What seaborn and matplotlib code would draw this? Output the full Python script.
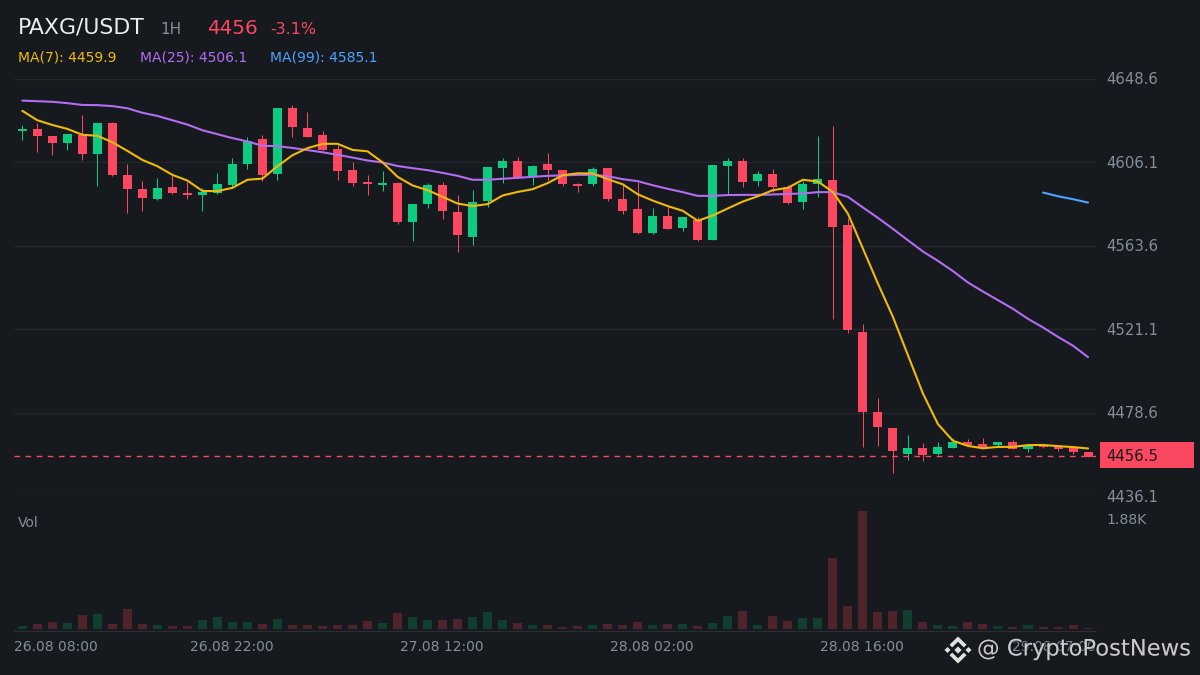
import numpy as np
import pandas as pd
import seaborn as sns
import matplotlib.pyplot as plt
import matplotlib.patheffects as pe
from matplotlib.patches import Polygon
from matplotlib.transforms import blended_transform_factory

opens = [4622.0,4623.0,4619.5,4615.9,4620.0,4610.3,4626.1,4599.6,4592.5,4587.4,4593.5,4590.5,4589.4,4590.5,4594.5,4605.2,4618.0,4600.1,4633.7,4623.6,4620.0,4612.9,4602.2,4596.1,4594.5,4595.6,
         4575.7,4584.9,4594.5,4580.8,4568.1,4586.4,4603.2,4606.7,4599.1,4605.2,4602.2,4595.0,4595.0,4603.2,4587.4,4582.3,4570.1,4578.8,4572.6,4576.7,4566.5,4604.2,4606.7,4596.6,4600.2,4593.5,
         4585.9,4595.0,4597.1,4574.1,4519.7,4478.9,4470.8,4457.6,4460.6,4457.6,4460.6,4463.7,4462.7,4462.1,4463.7,4460.1,4462.1,4461.6,4461.1,4458.6]
closes = [4623.0,4619.5,4615.9,4620.5,4610.3,4626.1,4599.6,4592.5,4587.9,4593.0,4590.5,4589.4,4591.0,4595.0,4605.2,4616.9,4599.6,4633.7,4624.1,4619.0,4612.4,4601.7,4595.6,4595.0,4595.6,4575.7,
          4584.9,4594.5,4581.3,4569.1,4585.9,4603.7,4606.7,4598.1,4604.2,4602.2,4595.0,4594.0,4602.7,4587.4,4581.3,4570.1,4578.8,4572.1,4578.2,4566.5,4604.7,4606.7,4596.1,4600.2,4593.5,4585.3,
          4595.0,4597.6,4573.1,4520.7,4478.9,4471.3,4459.1,4460.6,4457.1,4461.1,4463.7,4462.1,4461.1,4463.7,4460.1,4461.6,4461.1,4460.1,4458.6,4456.0]
highs = [4625.1,4626.1,4619.5,4620.5,4630.2,4626.1,4626.6,4605.2,4596.6,4598.1,4599.6,4596.1,4593.0,4600.6,4608.3,4619.0,4620.0,4633.7,4635.3,4631.7,4622.0,4614.9,4606.2,4599.6,4601.7,4596.1,
         4584.9,4595.5,4596.0,4589.4,4592.0,4603.7,4608.3,4608.8,4604.7,4610.8,4602.2,4595.5,4603.7,4603.2,4594.5,4596.0,4582.8,4583.8,4578.2,4578.2,4604.7,4608.3,4608.3,4601.7,4602.7,4594.5,
         4596.5,4619.5,4624.5,4577.7,4523.7,4486.1,4470.8,4467.2,4463.2,4463.7,4465.7,4465.2,4465.7,4463.7,4464.7,4461.6,4462.1,4461.6,4461.1,4458.6]
lows = [4617.4,4611.3,4609.8,4612.4,4607.3,4594.0,4599.1,4580.3,4581.3,4586.9,4590.0,4587.4,4581.3,4590.0,4593.5,4602.7,4596.6,4597.1,4619.0,4619.0,4612.4,4597.1,4594.0,4589.4,4591.5,4574.7,
        4566.0,4582.8,4577.2,4560.4,4564.0,4583.3,4595.5,4598.1,4594.5,4597.1,4594.0,4591.0,4594.0,4586.4,4579.8,4569.6,4569.6,4572.1,4571.1,4566.0,4566.5,4589.4,4593.5,4594.0,4591.0,4584.9,
        4582.3,4588.4,4526.3,4519.2,4461.1,4461.6,4447.9,4454.5,4454.0,4457.1,4460.6,4461.6,4460.6,4461.6,4460.1,4458.6,4460.6,4459.1,4457.6,4456.0]
volumes = [53,84,116,100,228,244,84,323,84,68,53,53,148,196,116,116,84,164,68,68,53,68,68,132,100,260,
           196,148,148,164,196,276,148,100,68,68,37,53,68,84,68,116,68,84,84,53,100,212,292,68,212,132,
           175,175,1131,366,1880,271,287,303,112,64,48,112,80,48,32,64,32,32,64,16]
ma7 = [4632.4,4627.6,4625.2,4623.2,4620.2,4619.7,4616.4,4612.0,4607.4,4604.2,4599.8,4596.9,4591.6,4591.5,4593.2,4597.3,4597.9,4604.2,4609.8,4613.4,4615.6,4615.6,4612.5,4611.8,4606.2,4598.8,
       4594.4,4592.0,4588.6,4585.2,4583.9,4584.9,4589.3,4591.1,4592.5,4595.6,4599.6,4600.6,4600.5,4597.6,4595.0,4589.9,4586.7,4583.9,4581.5,4576.4,4579.1,4582.7,4586.2,4588.9,4592.0,4593.2,
       4597.3,4596.4,4591.1,4580.1,4562.3,4544.5,4527.5,4508.0,4488.5,4472.9,4464.4,4461.8,4460.6,4461.3,4461.3,4462.2,4462.3,4461.7,4461.2,4460.5]
ma25 = [4637.6,4637.3,4637.0,4636.3,4635.4,4635.3,4634.8,4633.7,4631.4,4629.8,4627.6,4625.4,4622.5,4620.5,4618.5,4616.8,4614.6,4614.4,4613.5,4612.4,4611.3,4610.0,4608.6,4607.1,4606.1,4604.3,
        4603.2,4602.2,4600.8,4599.3,4597.3,4597.3,4597.8,4598.3,4598.8,4599.3,4599.5,4599.8,4599.8,4599.1,4597.6,4596.6,4594.5,4592.7,4591.0,4589.1,4589.1,4589.5,4589.6,4589.6,4589.8,4590.1,
        4590.3,4591.0,4591.0,4588.6,4583.2,4577.9,4572.3,4566.5,4560.8,4556.0,4550.8,4545.0,4540.4,4536.0,4531.6,4526.5,4522.1,4517.3,4512.8,4507.0]
ma99 = [4590.8,4588.9,4587.4,4585.7]
ma99_idx = [68,69,70,71]

price_ticks = [4648.6,4606.1,4563.6,4521.1,4478.6,4436.1]
date_labels = ["26.08 08:00","26.08 22:00","27.08 12:00","28.08 02:00","28.08 16:00","29.08 07:00"]
date_idx = [0,14,28,42,56,71]
last_price = 4456.5

BG = "#161a1e"
GRID = "#24282d"
UP = "#0ecb81"
DOWN = "#fb4760"
MUTED = "#848e9c"

sns.set_theme(style="dark", rc={"figure.facecolor": BG, "axes.facecolor": BG})
plt.rcParams["font.family"] = ["DejaVu Sans"]

W, H = 1200, 675
fig = plt.figure(figsize=(12, 6.75), dpi=100)
left, right = 14 / W, 1096 / W
ax = fig.add_axes([left, 1 - 496.4 / H, right - left, (496.4 - 79) / H])
vax = fig.add_axes([left, 1 - 629.3 / H, right - left, (629.3 - 511) / H])

df = pd.DataFrame({"i": range(len(opens)), "open": opens, "close": closes, "high": highs, "low": lows, "vol": volumes})
df["dir"] = np.where(df["close"] >= df["open"], "up", "down")
colors = df["dir"].map({"up": UP, "down": DOWN})

# candles
wicks = ax.vlines(df["i"], df["low"], df["high"], colors=colors, linewidth=0.72, zorder=3)
wicks.set_snap(True)
ax.bar(df["i"], (df["close"] - df["open"]).abs().clip(lower=0.6), bottom=df[["open", "close"]].min(axis=1),
       width=0.6, color=colors, linewidth=0, zorder=4)

sns.lineplot(x=df["i"], y=ma25, ax=ax, color="#b36cf2", linewidth=1.5, zorder=5, errorbar=None)
sns.lineplot(x=df["i"], y=ma7, ax=ax, color="#f0b90b", linewidth=1.5, zorder=6, errorbar=None)
sns.lineplot(x=ma99_idx, y=ma99, ax=ax, color="#4da3ff", linewidth=1.5, zorder=5, errorbar=None)

ax.set_xlim(-0.553, 71.53)
ax.set_ylim(price_ticks[-1], price_ticks[0])
ax.set_yticks(price_ticks)
ax.set_xticks([])
ax.grid(axis="y", color=GRID, linewidth=1)
ax.set_xlabel("")
ax.set_ylabel("")
ax.tick_params(left=False, labelleft=False)
sns.despine(ax=ax, left=True, bottom=True)

ax.axhline(last_price, color=DOWN, linewidth=1, dashes=(4, 4), zorder=7)

# volume pane
sns.barplot(data=df, x="i", y="vol", hue="dir", palette={"up": "#113f2f", "down": "#4e2329"}, dodge=False,
            native_scale=True, width=0.6, saturation=1, legend=False, ax=vax, linewidth=0)
vax.set_xlim(ax.get_xlim())
vax.set_ylim(0, 1880)
vax.patch.set_alpha(0)
vax.set_xlabel("")
vax.set_ylabel("")
vax.set_yticks([])
vax.set_xticks([])
sns.despine(ax=vax, left=True, bottom=True)
fig.add_artist(plt.Line2D([left, right], [1 - 630.5 / H] * 2, color="#2a2e33", linewidth=1))

# tick labels
trans = blended_transform_factory(fig.transFigure, ax.transData)
for p in price_ticks:
    ax.annotate(f"{p:.1f}", xy=(1106 / W, p), xycoords=trans, xytext=(0, -1), textcoords="offset pixels",
                color=MUTED, fontsize=10.7, va="center", ha="left", annotation_clip=False)

fig.patches.append(Polygon([[1100 / W, 1 - 442 / H], [1194 / W, 1 - 442 / H], [1194 / W, 1 - 468 / H], [1100 / W, 1 - 468 / H]],
                           closed=True, transform=fig.transFigure, facecolor=DOWN, linewidth=0))


def t(x, y, s, **kw):
    fig.text(x / W, 1 - y / H, s, va="center", **kw)


t(1106, 456.5, f"{last_price:.1f}", color=BG, fontsize=10.7, ha="left")

for k, lab in zip(date_idx, date_labels):
    if k == date_idx[0]:
        t(14, 647, lab, color=MUTED, fontsize=10, ha="left")
    elif k == date_idx[-1]:
        t(1096, 647, lab, color=MUTED, fontsize=10, ha="right")
    else:
        px = 14 + (k + 0.553) / 72.083 * 1082
        t(px - 0.5, 647, lab, color=MUTED, fontsize=10, ha="center")

t(18, 27.5, "PAXG/USDT", color="#eaecef", fontsize=15.8)
t(160, 30, "1H", color=MUTED, fontsize=11)
t(207, 28, "4456", color=DOWN, fontsize=14.4)
t(270, 29, "-3.1%", color=DOWN, fontsize=11.4)
t(18, 57.5, "MA(7): 4459.9", color="#f0b90b", fontsize=10)
t(140, 57.5, "MA(25): 4506.1", color="#b36cf2", fontsize=10)
t(270, 57.5, "MA(99): 4585.1", color="#4da3ff", fontsize=10)
t(18, 523, "Vol", color=MUTED, fontsize=10)
t(1106, 520, "1.88K", color=MUTED, fontsize=10.2)

# watermark
cx, cy, wm = 958, 650, "#e2e2e2"


def diamond(dx, dy, r):
    return [[(cx + dx) / W, 1 - (cy + dy - r) / H], [(cx + dx + r) / W, 1 - (cy + dy) / H],
            [(cx + dx) / W, 1 - (cy + dy + r) / H], [(cx + dx - r) / W, 1 - (cy + dy) / H]]


for d in [(0, 0, 3.6), (-10.5, 0, 3), (10.5, 0, 3)]:
    fig.patches.append(Polygon(diamond(*d), closed=True, transform=fig.transFigure, facecolor=wm, linewidth=0, zorder=20))
chev = [(-8.5, 5.2), (0, 13.5), (8.5, 5.2), (5.8, 2.6), (0, 8.3), (-5.8, 2.6)]
for sign in (-1, 1):
    fig.patches.append(Polygon([[(cx + a) / W, 1 - (cy - sign * b) / H] for a, b in chev], closed=True,
                               transform=fig.transFigure, facecolor=wm, linewidth=0, zorder=20))
t(977, 649, "@ CryptoPostNews", color="#dcdcdc", fontsize=16.3, alpha=0.88, zorder=21,
  path_effects=[pe.withStroke(linewidth=2, foreground=BG, alpha=0.5)])

fig.savefig("out.png", dpi=100, facecolor=BG)
